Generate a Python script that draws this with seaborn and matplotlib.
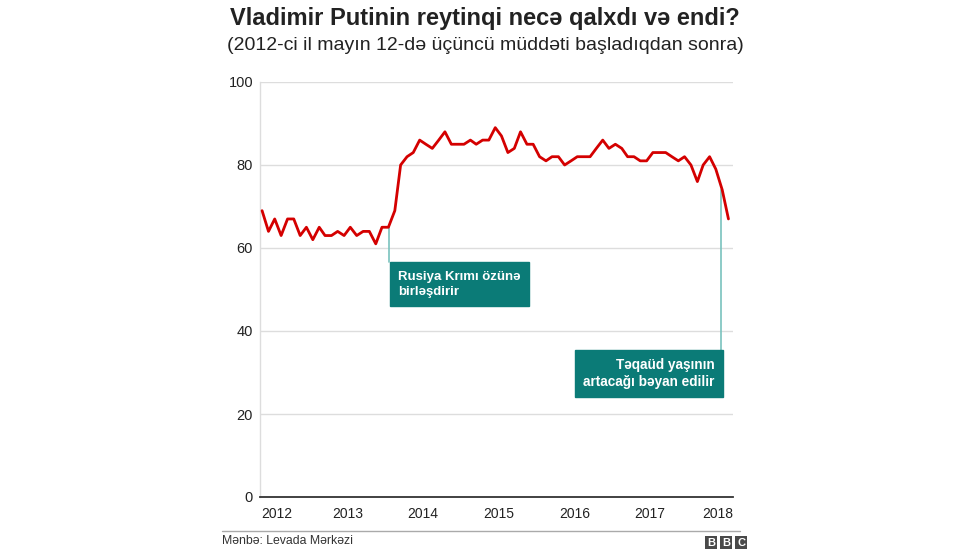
import pandas as pd
import matplotlib.pyplot as plt
from matplotlib.lines import Line2D
from matplotlib.patches import Rectangle
import seaborn as sns

# Levada: ayliq reytinq, 2012-ci ilin mayindan 2018-ci ilin iyuluna qeder
FIRST_MONTH = "2012-05-01"
RATING = [69, 64, 67, 63, 67, 67, 63, 65,
          62, 65, 63, 63, 64, 63, 65, 63, 64, 64, 61, 65,
          65, 69, 80, 82, 83, 86, 85, 84, 86, 88, 85, 85,
          85, 86, 85, 86, 86, 89, 87, 83, 84, 88, 85, 85,
          82, 81, 82, 82, 80, 81, 82, 82, 82, 84, 86, 84,
          85, 84, 82, 82, 81, 81, 83, 83, 83, 82, 81, 82,
          80, 76, 80, 82, 79, 74, 67]
YEARS = [2012, 2013, 2014, 2015, 2016, 2017, 2018]
Y_TICKS = [0, 20, 40, 60, 80, 100]

NOTE_CRIMEA = "Rusiya Krımı özünə\nbirləşdirir"
NOTE_PENSION = "Təqaüd yaşının\nartacağı bəyan edilir"

RED = "#d40000"
TEAL = "#0b7b77"
TEAL_LINE = "#79c2be"

sns.set_theme(style="white")
plt.rcParams["font.family"] = ["Liberation Sans", "DejaVu Sans"]

months = pd.date_range(FIRST_MONTH, periods=len(RATING), freq="MS") + pd.Timedelta(days=14)
df = pd.DataFrame({"date": months, "rating": RATING})

fig = plt.figure(figsize=(9.76, 5.49), dpi=100)
ax = fig.add_axes([260 / 976, 1 - 497 / 549, 473 / 976, 415 / 549])

sns.lineplot(data=df, x="date", y="rating", ax=ax, color=RED, linewidth=2.0, zorder=3)

ax.set_ylim(0, 100)
ax.set_xlim(months[0] - pd.Timedelta(days=10), months[-1] + pd.Timedelta(days=22))
ax.set_yticks(Y_TICKS)
ax.yaxis.grid(True, color="#dddddd", linewidth=1)
ax.xaxis.grid(False)
ax.set_xlabel("")
ax.set_ylabel("")
ax.tick_params(axis="y", length=0, labelsize=10.5, colors="#222222", pad=5)

for s in ["top", "right"]:
    ax.spines[s].set_visible(False)
ax.spines["left"].set_color("#dddddd")
ax.spines["left"].set_linewidth(1)
ax.spines["bottom"].set_color("#333333")
ax.spines["bottom"].set_linewidth(1.3)

# il sərhədləri: tik, etiketlər ortada
bounds = [pd.Timestamp(f"{y}-01-01") for y in YEARS[1:]]
ax.set_xticks(bounds)
ax.set_xticklabels([])
ax.tick_params(axis="x", length=4, width=1.3, colors="#333333", direction="out")
xl = ax.get_xlim()
trans = ax.get_xaxis_transform()
for y in YEARS:
    if y == YEARS[0]:
        ax.text(xl[0] + 5, -0.024, str(y), transform=trans, ha="left", va="top",
                fontsize=10, color="#222222")
    elif y == YEARS[-1]:
        ax.text(xl[1], -0.024, str(y), transform=trans, ha="right", va="top",
                fontsize=10, color="#222222")
    else:
        mid = pd.Timestamp(f"{y}-07-02")
        ax.text(mid, -0.024, str(y), transform=trans, ha="center", va="top",
                fontsize=10, color="#222222")

# annotasiyalar
x1 = pd.Timestamp("2014-01-20")
ax.plot([x1, x1], [RATING[20], 56.6], color=TEAL_LINE, linewidth=1.2, zorder=2)
ax.annotate(NOTE_CRIMEA, xy=(x1, 56.6), xytext=(6.3, -6.3), textcoords="offset points",
            ha="left", va="top", fontsize=9.5, fontweight="bold", color="white",
            linespacing=1.3, zorder=4,
            bbox=dict(boxstyle="square,pad=0.65", facecolor=TEAL, edgecolor=TEAL))

x2 = pd.Timestamp("2018-06-11")
ax.plot([x2, x2], [RATING[73], 35.4], color=TEAL_LINE, linewidth=1.2, zorder=2)
ax.annotate(NOTE_PENSION, xy=(x2, 35.4), xytext=(-4.8, -6.0), textcoords="offset points",
            ha="right", va="top", fontsize=9.8, fontweight="bold", color="white",
            linespacing=1.2, multialignment="right", zorder=4,
            bbox=dict(boxstyle="square,pad=0.62", facecolor=TEAL, edgecolor=TEAL))

# başlıq
fig.text(485 / 976, 1 - 19 / 549, "Vladimir Putinin reytinqi necə qalxdı və endi?",
         ha="center", va="center", fontsize=17, fontweight="bold", color="#222222")
fig.text(485 / 976, 1 - 46 / 549, "(2012-ci il mayın 12-də üçüncü müddəti başladıqdan sonra)",
         ha="center", va="center", fontsize=14, color="#222222")

# alt hissə
fig.add_artist(Line2D([222 / 976, 740 / 976], [1 - 531 / 549] * 2, transform=fig.transFigure,
                      color="#aaaaaa", linewidth=1))
fig.text(222 / 976, 1 - 541 / 549, "Mənbə: Levada Mərkəzi", ha="left", va="center",
         fontsize=8.8, color="#333333")
for i, ch in enumerate("BBC"):
    x0 = (705 + 15 * i) / 976
    fig.add_artist(Rectangle((x0, 0), 12 / 976, 13 / 549, transform=fig.transFigure,
                             facecolor="#4a4a4a", edgecolor="none"))
    fig.text(x0 + 6 / 976, 6.5 / 549, ch, ha="center", va="center", fontsize=8,
             fontweight="bold", color="white")

fig.savefig("out.png", dpi=100, facecolor="white")
